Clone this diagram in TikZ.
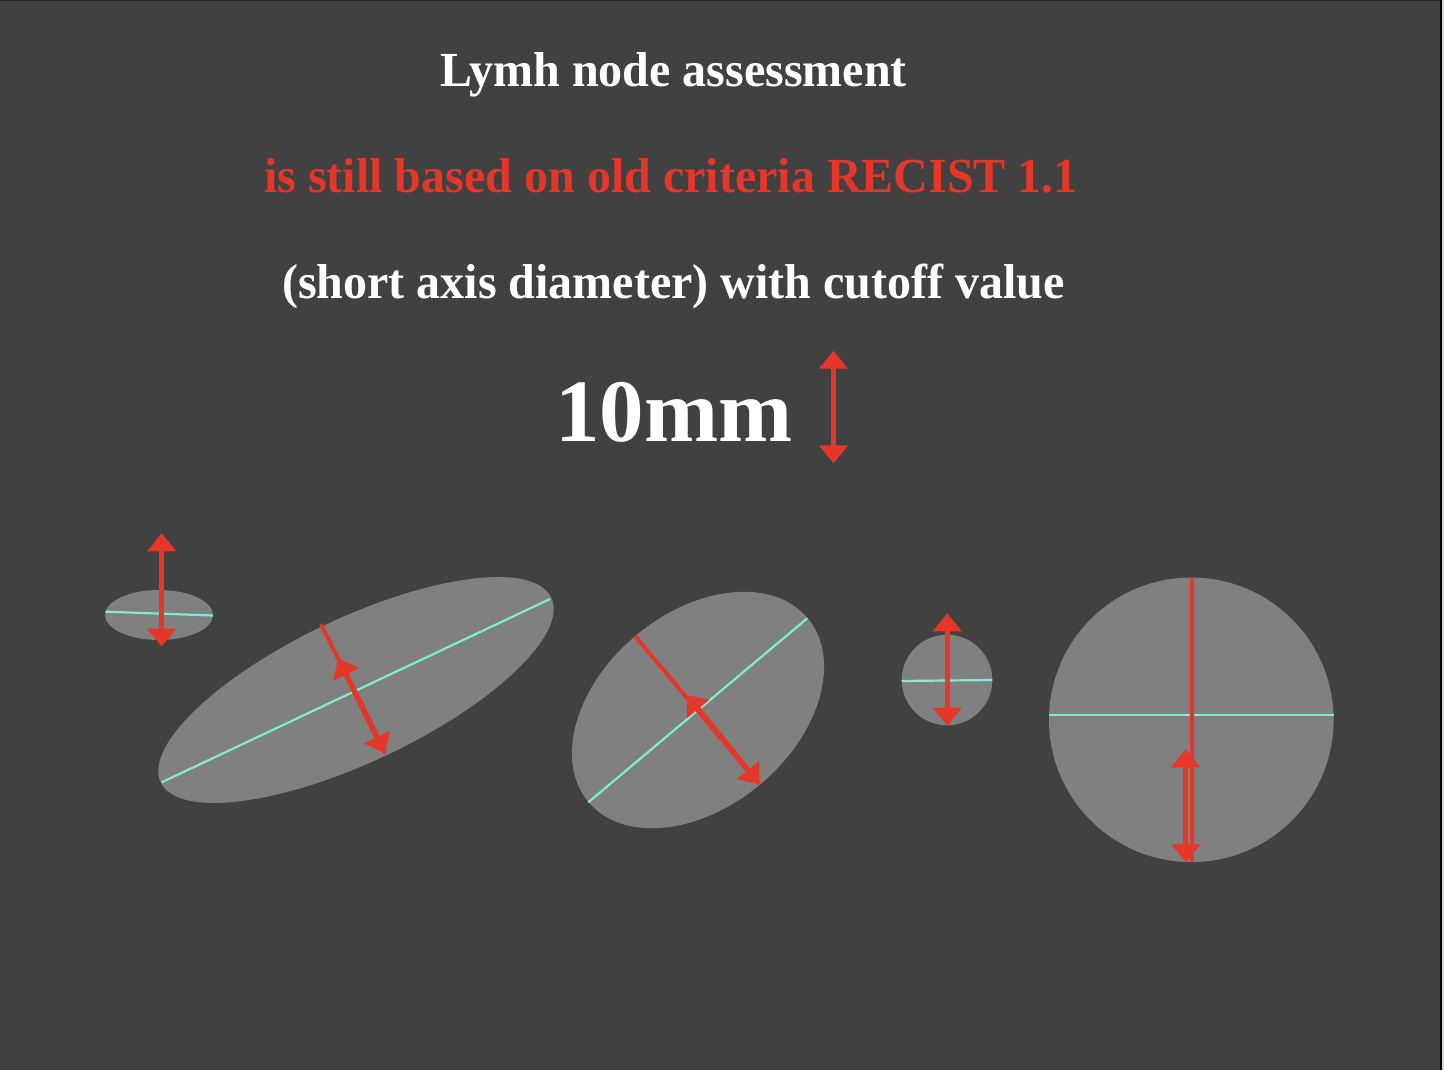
\documentclass[tikz,border=0pt]{standalone}
\usepackage{fontspec}
\setmainfont{Liberation Serif}
\newfontfamily\condserif[FakeStretch=0.98]{Liberation Serif}
\usetikzlibrary{arrows.meta}
\definecolor{bgc}{HTML}{414141}
\definecolor{topc}{HTML}{26292D}
\definecolor{edgec}{HTML}{D6D6D6}
\definecolor{nodec}{HTML}{808080}
\definecolor{redc}{HTML}{E5362A}
\definecolor{cyanc}{HTML}{80ECD0}
\tikzset{
  headtip/.tip={Triangle[width=28pt,length=18pt]},
  redarrow/.style={draw=redc, line width=5pt, headtip-headtip},
  redline/.style={draw=redc, line width=4pt},
  axisline/.style={draw=cyanc, line width=2.2pt},
  lesion/.style={fill=nodec},
  headline/.style={font=\condserif\bfseries\fontsize{49}{55}\selectfont, inner sep=0pt, anchor=base},
}
\begin{document}
\begin{tikzpicture}[x=1pt,y=-1pt]
\useasboundingbox (0,0) rectangle (1444,1070);
\fill[bgc] (0,0) rectangle (1440,1070);
\fill[topc] (0,0) rectangle (1440,1.5);
\fill[black] (1440,0) rectangle (1441.5,1070);
\fill[edgec] (1441.5,0) rectangle (1444,1070);

% texts
\node[headline, text=white] (t1) at (673.5,86.7) {Lymh node assessment};
\node[headline, text=redc] (t2) at (671,192.7) {is still based on old criteria RECIST 1.1};
\node[headline, text=white] (t3) at (673.5,298.3) {(short axis diameter) with cutoff value};
\node[font=\bfseries\fontsize{89}{95}\selectfont, inner sep=0pt, anchor=base, text=white] (t4) at (674,441.7) {10mm};

% scale arrow
\coordinate (s1) at (833.5,350.7);
\coordinate (s2) at (833.5,463.3);
\draw[redarrow] (s1) -- (s2);

% lesion 1: small ellipse
\fill[lesion] (159,615) ellipse [x radius=54, y radius=25];
\coordinate (a1l) at (105.5,611.7);
\coordinate (a1r) at (213,615.5);
\draw[axisline] (a1l) -- (a1r);
\coordinate (r1t) at (161.7,533.3);
\coordinate (r1b) at (161.7,646.7);
\draw[redarrow] (r1t) -- (r1b);

% lesion 2: long oblique ellipse
\fill[lesion, rotate around={25.3:(356,690)}] (356,690) ellipse [x radius=216, y radius=72];
\coordinate (a2l) at (161.7,782.3);
\coordinate (a2r) at (550,599);
\draw[axisline] (a2l) -- (a2r);
\coordinate (r2s) at (321,624);
\coordinate (r2m) at (338.3,658.3);
\coordinate (r2e) at (385,753.3);
\draw[redline] (r2s) -- (r2e);
\draw[redarrow, line width=5.5pt] (r2m) -- (r2e);

% lesion 3: oval
\fill[lesion, rotate around={40:(698,710)}] (698,710) ellipse [x radius=143, y radius=97];
\coordinate (a3l) at (588.3,802.3);
\coordinate (a3r) at (807.3,618.3);
\draw[axisline] (a3l) -- (a3r);
\coordinate (r3s) at (635,636);
\coordinate (r3m) at (686.7,695);
\coordinate (r3e) at (759.3,784);
\draw[redline] (r3s) -- (r3e);
\draw[redarrow, line width=5.5pt] (r3m) -- (r3e);

% lesion 4: small circle
\fill[lesion] (947,680) circle [radius=45.3];
\coordinate (a4l) at (901.7,681);
\coordinate (a4r) at (992.3,680);
\draw[axisline] (a4l) -- (a4r);
\coordinate (r4t) at (947.3,613.3);
\coordinate (r4b) at (947.3,725.7);
\draw[redarrow] (r4t) -- (r4b);

% lesion 5: large circle
\fill[lesion] (1191.3,719.8) circle [radius=142.3];
\coordinate (a5l) at (1049,715);
\coordinate (a5r) at (1333.5,715);
\draw[axisline] (a5l) -- (a5r);
\coordinate (r5t) at (1191.7,577.5);
\coordinate (r5b) at (1191.7,862);
\draw[redline] (r5t) -- (r5b);
\coordinate (r5m) at (1185.7,749.3);
\coordinate (r5e) at (1185.7,862.3);
\draw[redarrow] (r5m) -- (r5e);
\end{tikzpicture}
\end{document}
